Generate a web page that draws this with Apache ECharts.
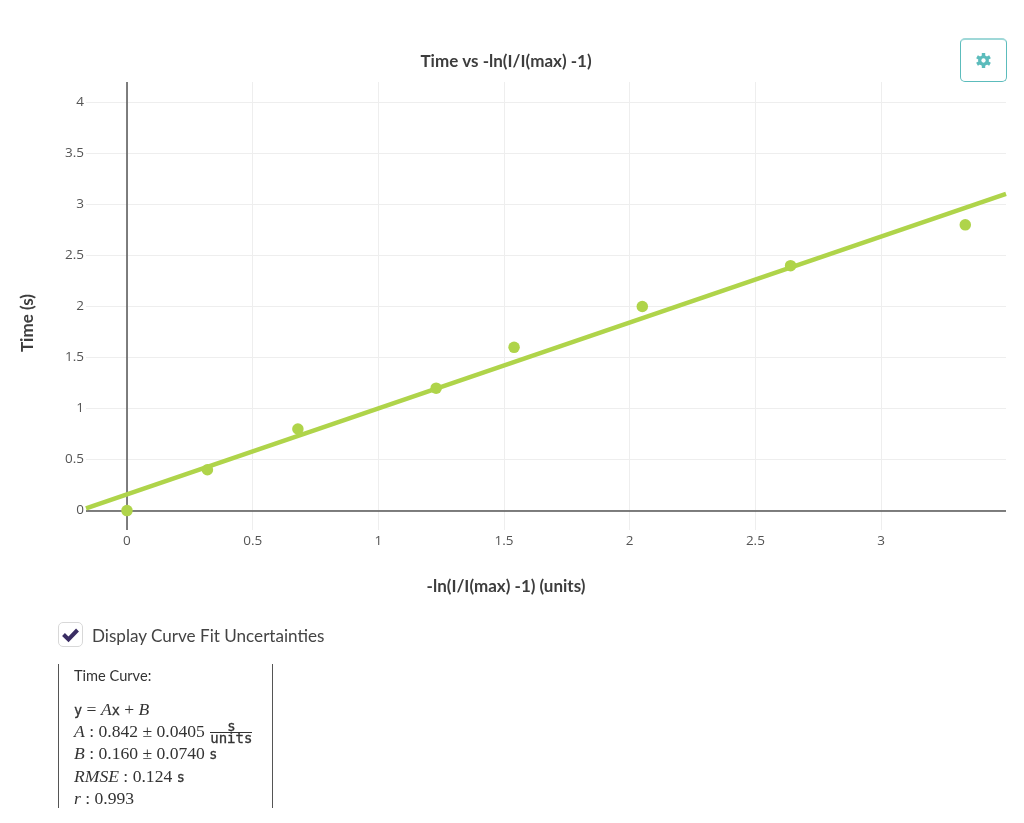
<!DOCTYPE html>
<html><head><meta charset="utf-8">
<script src="https://cdn.jsdelivr.net/npm/echarts@6/dist/echarts.min.js"></script>
<style>
html,body{margin:0;padding:0;background:#fff;overflow:hidden;}
#chart{position:absolute;left:0;top:0;width:1024px;height:823px;}
.ov{position:absolute;font-family:Lato,sans-serif;color:#444;}
#gear{left:960px;top:38px;width:45px;height:41px;border:1px solid #5cbcbc;border-top:2px solid #9fd8d8;border-radius:5px;background:#fff;display:flex;align-items:center;justify-content:center;}
#check{left:58px;top:622px;width:23px;height:23px;border:1px solid #d8d8d8;border-radius:5px;background:#fff;}
#checkLabel{left:92px;top:625px;font-size:17.1px;line-height:21px;color:#444;}
#panel{left:58px;top:664px;width:213px;height:144px;border-left:1px solid #555;border-right:1px solid #555;}
#panelTitle{position:absolute;left:15px;top:3px;font-size:14.6px;line-height:18px;color:#333;}
.m{position:absolute;left:15px;font-family:"Liberation Serif",serif;font-size:17.6px;line-height:20px;color:#333;white-space:nowrap;}
.m i{font-style:italic;}
.m b{font-family:"DejaVu Sans Mono",monospace;font-size:13.5px;font-weight:normal;-webkit-text-stroke:0.3px #333;}
.frac{display:inline-block;vertical-align:middle;text-align:center;line-height:12px;margin-left:1px;}
.frac b{display:block;font-size:14px;line-height:11px;}
.frac b:first-child{border-bottom:1px solid #333;}
</style></head><body>
<div id="chart"></div>
<div id="gear" class="ov"><svg width="15" height="15" viewBox="-7 -7 14 14"><g fill="#5cbcbc"><circle r="5"/><rect x="-1.6" y="-7" width="3.2" height="14"/><rect x="-1.6" y="-7" width="3.2" height="14" transform="rotate(60)"/><rect x="-1.6" y="-7" width="3.2" height="14" transform="rotate(120)"/></g><circle r="2" fill="#fff"/></svg></div>
<div id="check" class="ov"><svg width="23" height="23" viewBox="0 0 23 23"><path d="M4.5 11.5 L9.5 16.5 L18.5 7" fill="none" stroke="#3a2d63" stroke-width="4"/></svg></div>
<div id="checkLabel" class="ov">Display Curve Fit Uncertainties</div>
<div id="panel" class="ov">
<div id="panelTitle">Time Curve:</div>
<div class="m" style="top:35px"><b>y</b> = <i>A</i><b>x</b> + <i>B</i></div>
<div class="m" style="top:57px"><i>A</i> : 0.842 ± 0.0405 <span class="frac"><b>s</b><b>units</b></span></div>
<div class="m" style="top:79px"><i>B</i> : 0.160 ± 0.0740 <b>s</b></div>
<div class="m" style="top:102px"><i>RMSE</i> : 0.124 <b>s</b></div>
<div class="m" style="top:124px"><i>r</i> : 0.993</div>
</div>
<script>
const titleText = 'Time vs -ln(I/I(max) -1)';
const xName = '-ln(I/I(max) -1) (units)';
const yName = 'Time (s)';
const xTicks = [0, 0.5, 1, 1.5, 2, 2.5, 3];
const yTicks = [0, 0.5, 1, 1.5, 2, 2.5, 3, 3.5, 4];
const xValues = [0, 0.32, 0.68, 1.23, 1.54, 2.05, 2.64, 3.335];
const yValues = [0, 0.4, 0.8, 1.2, 1.6, 2.0, 2.4, 2.8];
const fitX = [-0.163, 3.497];
const fitY = [0.023, 3.104];
const xRange = [-0.163, 3.497];
const yRange = [-0.19, 4.2];

const chart = echarts.init(document.getElementById('chart'), null, {renderer: 'canvas'});
const fontFamily = 'Lato, sans-serif';
const tickFont = '"Open Sans", sans-serif';
chart.setOption({
  animation: false,
  backgroundColor: '#fff',
  title: {
    text: titleText, left: 501, top: 48, textAlign: 'center',
    textStyle: {fontFamily, fontSize: 17, fontWeight: 'bold', color: '#3d3d3d'}
  },
  grid: {left: 86, right: 18, top: 82, bottom: 293, containLabel: false},
  xAxis: {
    type: 'value', min: xRange[0], max: xRange[1],
    name: xName, nameLocation: 'middle', nameGap: 48,
    nameTextStyle: {fontFamily, fontSize: 17, fontWeight: 'bold', color: '#3d3d3d', padding: [0, 80, 0, 0]},
    axisLine: {show: false}, axisTick: {show: false, customValues: xTicks},
    axisLabel: {customValues: xTicks, color: '#555', fontFamily: tickFont, fontSize: 13.5, margin: 4},
    splitLine: {show: true, lineStyle: {color: '#eee', width: 1}}
  },
  yAxis: {
    type: 'value', min: yRange[0], max: yRange[1],
    name: yName, nameLocation: 'middle', nameGap: 50, nameRotate: 90,
    nameTextStyle: {fontFamily, fontSize: 17, fontWeight: 'bold', color: '#3d3d3d', padding: [0, 34, 0, 0]},
    axisLine: {show: false}, axisTick: {show: false, customValues: yTicks},
    axisLabel: {customValues: yTicks, color: '#555', fontFamily: tickFont, fontSize: 13.5, margin: 2, padding: [6, 0, 0, 0]},
    splitLine: {show: true, lineStyle: {color: '#eee', width: 1}}
  },
  series: [
    {
      type: 'line', data: fitX.map((x, i) => [x, fitY[i]]), showSymbol: false, z: 3,
      lineStyle: {color: '#afd44a', width: 4.5},
      markLine: {
        silent: true, symbol: 'none', label: {show: false}, z: 2,
        lineStyle: {color: '#555', width: 1.5, type: 'solid'},
        data: [{xAxis: 0}, {yAxis: 0}]
      }
    },
    {
      type: 'scatter', data: xValues.map((x, i) => [x, yValues[i]]), symbolSize: 11.5, z: 4,
      itemStyle: {color: '#afd44a', opacity: 1}
    }
  ]
});
</script>
</body></html>
